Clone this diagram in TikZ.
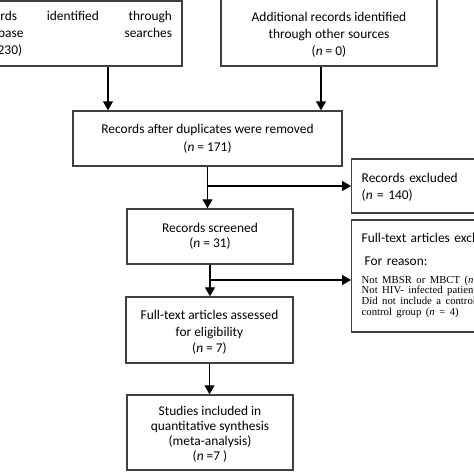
\documentclass[tikz,border=0pt]{standalone}
\usepackage{fontspec}
\setmainfont{Carlito}
\newfontfamily\serifrm{Liberation Serif}
\usetikzlibrary{arrows.meta}
\usetikzlibrary{positioning}

\tikzset{
  box/.style={draw=black!75, line width=1.4pt, inner sep=0pt, align=center,
    font=\fontsize{13.4}{16.5}\selectfont},
  sidebox/.style={box, anchor=west, inner xsep=10pt, align=left},
  link/.style={line width=1.2pt, -{Triangle[length=9pt,width=10pt]}},
}

\begin{document}
\begin{tikzpicture}[x=1pt,y=-1pt]
\useasboundingbox (0,0) rectangle (474,474);
% sources
\node (ident) [box, minimum width=218, minimum height=65, text width=198, align=justify,
  font=\fontsize{13.4}{17}\selectfont] at (73,33.5)
  {\noindent Records identified through\linebreak database searches\linebreak (\textit{n} = 230)};
\node (other) [box, minimum width=216, minimum height=70,
  font=\fontsize{13.4}{17}\selectfont] at (329,31)
  {\rule{0pt}{17pt}Additional records identified\\through other sources\\(\textit{n} = 0)};
% main column
\node (merged) [box, minimum width=269, minimum height=55,
  font=\fontsize{13.4}{18}\selectfont] at (207.5,138.5)
  {Records after duplicates were removed\\(\textit{n} = 171)};
\node (screened) [box, minimum width=166, minimum height=55,
  font=\fontsize{13.4}{15.5}\selectfont] at (210,236.5)
  {Records screened\\(\textit{n} = 31)};
\node (assessed) [box, minimum width=167, minimum height=66] at (209.5,330)
  {\rule{0pt}{14pt}Full-text articles assessed\\for eligibility\\(\textit{n} = 7)};
\node (included) [box, minimum width=166, minimum height=75,
  font=\fontsize{13.4}{15}\selectfont] at (210,432.5)
  {\rule{0pt}{13pt}Studies included in\\quantitative synthesis\\(meta-analysis)\\(\textit{n} =7 )};
% exclusions
\node (excl) [sidebox, minimum height=54, text width=150] at (351,186)
  {\rule{0pt}{12pt}Records excluded\\(\textit{n} = 140)};
\node (ftexcl) [sidebox, minimum height=112, text width=180] at (351,276)
  {Full-text articles excluded\\[6pt]
   \hspace*{3pt}For reason:\\[1.5pt]
   {\serifrm\fontsize{10.7}{10.7}\selectfont
   \begin{tabular}[t]{@{}l@{}}
   Not MBSR or MBCT (\textit{n} =\\
   Not HIV- infected patients\\
   Did not include a control\\
   control group (\textit{n} = 4)
   \end{tabular}}};
\coordinate (ftin) at ([yshift=-4pt]ftexcl.west);

\draw [link] ([xshift=35pt]ident.south) -- ([xshift=35pt]ident.south |- merged.north);
\draw [link] ([xshift=-8pt]other.south) -- ([xshift=-8pt]other.south |- merged.north);
\draw [link] (merged.south) -- (merged.south |- screened.north);
\draw [link] (merged.south |- excl.west) -- (excl.west);
\draw [link] (screened.south) -- (screened.south |- assessed.north);
\draw [link] (screened.south |- ftin) -- (ftin);
\draw [link] (assessed.south) -- (assessed.south |- included.north);
\end{tikzpicture}
\end{document}
